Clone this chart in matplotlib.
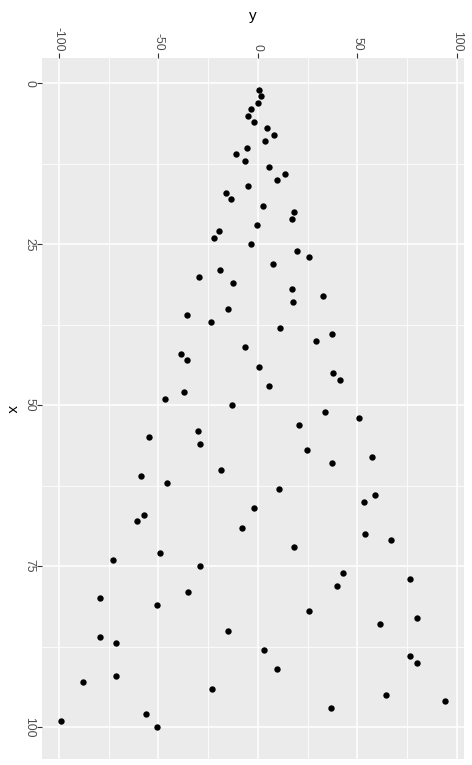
import numpy as np
import matplotlib
matplotlib.use('Agg')
import matplotlib.pyplot as plt

plt.rcParams['font.family'] = ['Liberation Sans', 'DejaVu Sans']

# data (x = index, y = value)
x = list(range(1, 101))
y = [0.8, 1.7, 0.3, -3.2, -4.8, -1.7, 4.5, 7.9, 3.7, -5.5,
     -11.0, -6.5, 5.4, 13.7, 9.5, -4.7, -16.2, -13.5, 2.8, 18.1,
     17.4, -0.2, -19.4, -21.9, -3.5, 19.6, 25.8, 7.5, -19.2, -29.6,
     -12.5, 17.4, 32.8, 17.7, -15.1, -35.6, -23.7, 11.2, 37.3, 29.4,
     -6.5, -38.5, -35.6, 0.7, 38.0, 41.1, 5.7, -37.0, -46.7, -13.2,
     33.9, 51.0, 20.9, -30.1, -54.8, -29.1, 24.6, 57.2, 37.3, -18.4,
     -58.7, -45.7, 10.4, 58.7, 53.5, -1.8, -57.2, -60.9, -8.0, 54.0,
     67.1, 18.1, -49.2, -72.6, -29.1, 42.6, 76.4, 40.0, -34.9, -79.3,
     -50.8, 25.6, 79.8, 61.2, -14.9, -79.1, -71.2, 3.0, 76.3, 79.9,
     9.5, -71.4, -88.0, -23.1, 64.5, 94.0, 36.6, -56.0, -98.7, -50.7]

y_ticks = [-100, -50, 0, 50, 100]
x_ticks = [0, 25, 50, 75, 100]

fig = plt.figure(figsize=(4.72, 7.65), dpi=100)
ax = fig.add_axes([0.0896, 0.0078, 0.8934, 0.9164])
ax.set_facecolor('#EBEBEB')
for s in ax.spines.values():
    s.set_visible(False)

# rotated ggplot: y values run horizontally, x runs downward
ax.scatter(y, x, s=21, color='black', linewidths=0, zorder=3)

ax.set_xlim(-108.3, 103.6)
ax.set_ylim(104.95, -3.95)

ax.set_xticks(y_ticks)
ax.set_xticks([-75, -25, 25, 75], minor=True)
ax.set_yticks(x_ticks)
ax.set_yticks([12.5, 37.5, 62.5, 87.5], minor=True)
ax.set_xticklabels([str(v) for v in y_ticks], rotation=-90, fontsize=8.8, color='#4D4D4D')
ax.set_yticklabels([str(v) for v in x_ticks], rotation=-90, fontsize=8.8, color='#4D4D4D', va='center')

ax.xaxis.tick_top()
ax.xaxis.set_label_position('top')
ax.tick_params(which='major', length=3.5, width=0.8, color='#333333', pad=1.5)
ax.tick_params(which='minor', length=0)

ax.grid(which='major', color='white', linewidth=1.1)
ax.grid(which='minor', color='white', linewidth=0.55)
ax.set_axisbelow(True)

ax.set_xlabel('y', fontsize=11, labelpad=5)
ax.set_ylabel('x', fontsize=11, rotation=-90, labelpad=8, va='center')

fig.savefig('out.png', dpi=100)
